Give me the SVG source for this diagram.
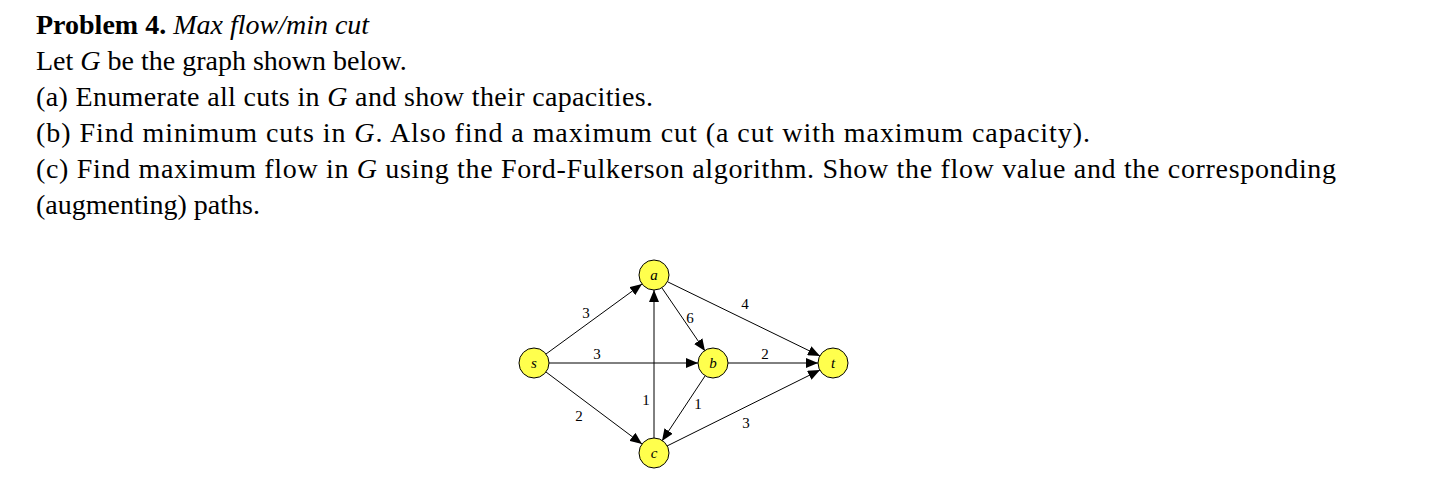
<svg xmlns="http://www.w3.org/2000/svg" width="1434" height="488" viewBox="0 0 1434 488">
<style>
.t{font-family:"Liberation Serif",serif;font-size:28px;fill:#000}
.n circle{fill:#ffff4d;stroke:#000;stroke-width:1}
.n text,.l{font-family:"Liberation Serif",serif;font-size:15px;text-anchor:middle}
.n text{font-style:italic}
#edges line{stroke:#000;stroke-width:1;marker-end:url(#ar)}
</style>
<defs><marker id="ar" markerWidth="12" markerHeight="10" refX="12" refY="5" orient="auto" markerUnits="userSpaceOnUse"><path d="M0,0L12,5L0,10z" fill="#000"/></marker></defs>
<rect width="1434" height="488" fill="#fff"/>
<text class="t" x="36" y="34"><tspan font-weight="bold">Problem 4.</tspan> <tspan font-style="italic">Max flow/min cut</tspan></text>
<text class="t" x="36" y="70">Let <tspan font-style="italic">G</tspan> be the graph shown below.</text>
<text class="t" x="36" y="106" textLength="617">(a) Enumerate all cuts in <tspan font-style="italic">G</tspan> and show their capacities.</text>
<text class="t" x="36" y="142" textLength="1054">(b) Find minimum cuts in <tspan font-style="italic">G</tspan>. Also find a maximum cut (a cut with maximum capacity).</text>
<text class="t" x="36" y="178" textLength="1300">(c) Find maximum flow in <tspan font-style="italic">G</tspan> using the Ford-Fulkerson algorithm.  Show the flow value and the corresponding</text>
<text class="t" x="36" y="214">(augmenting) paths.</text>
<g id="edges">
<line x1="546" y1="354" x2="642" y2="284"/>
<line x1="549" y1="363" x2="698" y2="363"/>
<line x1="546" y1="372" x2="642" y2="444"/>
<line x1="654" y1="438" x2="654" y2="290"/>
<line x1="662" y1="288" x2="705" y2="351"/>
<line x1="668" y1="282" x2="820" y2="356"/>
<line x1="728" y1="363" x2="818" y2="363"/>
<line x1="705" y1="376" x2="662" y2="441"/>
<line x1="667" y1="446" x2="820" y2="370"/>
</g>
<g id="labels">
<text class="l" x="586" y="318">3</text>
<text class="l" x="597" y="359">3</text>
<text class="l" x="579" y="421">2</text>
<text class="l" x="646" y="405">1</text>
<text class="l" x="690" y="323">6</text>
<text class="l" x="745" y="309">4</text>
<text class="l" x="765" y="359">2</text>
<text class="l" x="698" y="409">1</text>
<text class="l" x="746" y="428">3</text>
</g>
<g id="s" class="n"><circle cx="534" cy="363" r="15"/><text x="534" y="368">s</text></g>
<g id="a" class="n"><circle cx="654" cy="275" r="15"/><text x="654" y="280">a</text></g>
<g id="b" class="n"><circle cx="713" cy="363" r="15"/><text x="713" y="368">b</text></g>
<g id="t" class="n"><circle cx="833" cy="363" r="15"/><text x="833" y="368">t</text></g>
<g id="c" class="n"><circle cx="654" cy="453" r="15"/><text x="654" y="458">c</text></g>
</svg>
